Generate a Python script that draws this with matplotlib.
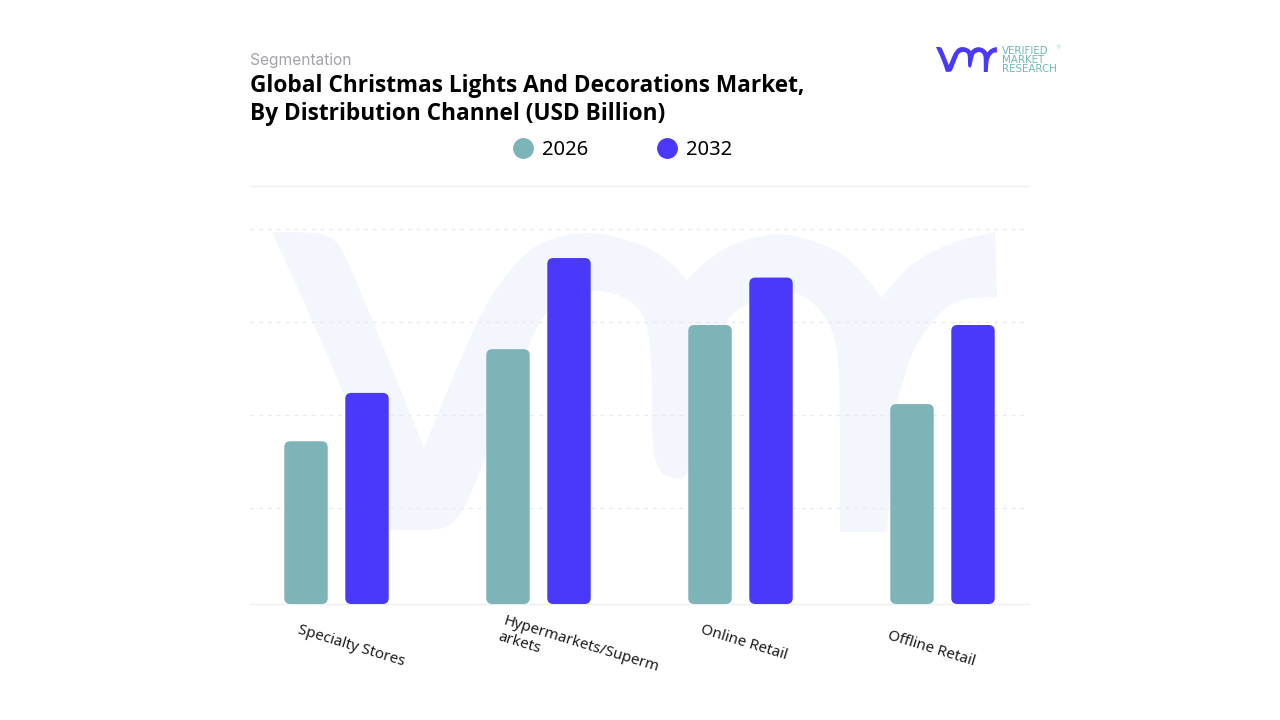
import numpy as np
import matplotlib
matplotlib.use("Agg")
import matplotlib.pyplot as plt
from matplotlib.lines import Line2D
from matplotlib.patches import FancyBboxPatch, Polygon
from matplotlib.transforms import ScaledTranslation

# === DATA ===
CATEGORIES = ["Specialty Stores", "Hypermarkets/Superm\narkets", "Online Retail", "Offline Retail"]
VALUES_2026 = [1.75, 2.74, 3.00, 2.15]
VALUES_2032 = [2.27, 3.72, 3.51, 3.00]
GRID_TICKS = [1.03, 2.03, 3.03, 4.03]

TEAL = "#7cb4b8"
BLUE = "#4b39fb"
GRID = "#e8eaef"
WATERMARK = "#f4f6fd"

BAR_W = 0.215
BAR_OFF = 0.151
X_PER_PX = 1 / 202
Y_PER_PX = 1 / 93

# label nudges in px, the labels do not sit evenly under their groups
LABEL_NUDGE = [(-36, -14), (-33, -5), (-37, -14), (-52, -20)]

# vmr logo outline, in reference pixels (also used small for the logo)
VMR = [
    (272, 232), (315, 232), (333, 238), (345, 252), (424, 448), (465, 348), (482, 312),
    (500, 282), (530, 248), (558, 236), (590, 232), (622, 238), (650, 248), (670, 262),
    (687, 280), (705, 262), (725, 248), (750, 238), (780, 233), (812, 240), (840, 252),
    (862, 272), (882, 298), (902, 272), (925, 255), (958, 240), (995, 232), (997, 297),
    (965, 298), (948, 306), (935, 318), (920, 338), (910, 358), (900, 390), (895, 415),
    (887, 532), (840, 532), (840, 365), (834, 335), (825, 315), (810, 300), (795, 292),
    (770, 294), (750, 302), (735, 312), (725, 322), (705, 400), (690, 480), (665, 477),
    (657, 466), (652, 448), (652, 355), (645, 315), (630, 300), (610, 292), (590, 290),
    (570, 296), (550, 308), (535, 328), (485, 458), (472, 492), (460, 515), (450, 525),
    (440, 530), (390, 530), (345, 392),
]
SHARP = {(272, 232), (424, 448), (687, 280), (882, 298), (995, 232), (997, 297),
         (887, 532), (840, 532), (390, 530)}


def chaikin(points, sharp, rounds=3):
    """Corner cutting so the outline reads as curves, sharp points are kept."""
    pts = [tuple(p) for p in points]
    for _ in range(rounds):
        out = []
        n = len(pts)
        for i in range(n):
            p, q = np.array(pts[i - 1], float), np.array(pts[i], float)
            r = np.array(pts[(i + 1) % n], float)
            if pts[i] in sharp:
                out.append(pts[i])
            else:
                out.append(tuple(q + (p - q) * 0.25))
                out.append(tuple(q + (r - q) * 0.25))
        pts = out
    return np.array(pts)


outline = chaikin(VMR, SHARP)

fig = plt.figure(figsize=(12.8, 7.2), dpi=100, facecolor="white")

# background layer in pixel coordinates: watermark, titles, logo
bg = fig.add_axes([0, 0, 1, 1], zorder=0)
bg.set_xlim(0, 1280)
bg.set_ylim(720, 0)
bg.axis("off")
bg.add_patch(Polygon(outline, closed=True, facecolor=WATERMARK, edgecolor="none"))

logo = outline.copy()
logo[:, 0] = 936 + (logo[:, 0] - 272) * 61 / 725
logo[:, 1] = 47 + (logo[:, 1] - 232) * 25 / 300
bg.add_patch(Polygon(logo, closed=True, facecolor=BLUE, edgecolor="none"))
for y, line in zip([51, 60, 69], ["VERIFIED", "MARKET", "RESEARCH"]):
    bg.text(1002, y, line, color="#6fb9b5", fontsize=7.4, family="DejaVu Sans", va="center", ha="left")
bg.text(1055, 48, "®", color="#9fcfcc", fontsize=4, family="DejaVu Sans", va="center", ha="left")

bg.text(250, 60, "Segmentation", color="#a3a3a8", fontsize=11.2, family="Inter", va="center", ha="left")
bg.text(250, 85.5, "Global Christmas Lights And Decorations Market,", color="black", fontsize=16.3,
        family="Open Sans", weight="bold", va="center", ha="left")
bg.text(250, 114.5, "By Distribution Channel (USD Billion)", color="black", fontsize=16.3,
        family="Open Sans", weight="bold", va="center", ha="left")

# main chart
ax = fig.add_axes([250 / 1280, 1 - 604 / 720, 779 / 1280, 418 / 720], zorder=1)
ax.patch.set_alpha(0)
ax.set_xlim(-86.5 * X_PER_PX, 692.5 * X_PER_PX)
ax.set_ylim(0, 418 * Y_PER_PX)

for i, (a, b) in enumerate(zip(VALUES_2026, VALUES_2032)):
    for val, off, col in [(a, -BAR_OFF, TEAL), (b, BAR_OFF, BLUE)]:
        ax.add_patch(FancyBboxPatch(
            (i + off - BAR_W / 2, 0), BAR_W, val,
            boxstyle=f"round,pad=0,rounding_size={6 * X_PER_PX}",
            mutation_aspect=Y_PER_PX / X_PER_PX,
            facecolor=col, edgecolor="none", zorder=3, clip_on=False))

ax.set_yticks(GRID_TICKS)
ax.set_yticklabels([])
ax.yaxis.grid(True, color=GRID, linestyle=(0, (3, 4)), linewidth=0.9)
ax.set_axisbelow(True)
ax.tick_params(axis="both", length=0)

for name, spine in ax.spines.items():
    spine.set_visible(name in ("top", "bottom"))
    spine.set_color("#eeeff2")
    spine.set_linewidth(1.0)

ax.set_xticks(range(len(CATEGORIES)))
ax.set_xticklabels(CATEGORIES, rotation=-17, ha="left", va="top", rotation_mode="anchor",
                   fontsize=10.8, family="Noto Sans", color="#1a1a1a", linespacing=1.1)
for lab, (dx, dy) in zip(ax.get_xticklabels(), LABEL_NUDGE):
    lab.set_transform(lab.get_transform() + ScaledTranslation(dx / 100, dy / 100, fig.dpi_scale_trans))

handles = [
    Line2D([], [], marker="o", linestyle="none", markersize=14, color=TEAL, label="2026"),
    Line2D([], [], marker="o", linestyle="none", markersize=14, color=BLUE, label="2032"),
]
fig.legend(handles=handles, loc="center", bbox_to_anchor=(622.5 / 1280, 1 - 150 / 720), ncol=2,
           frameon=False, handlelength=1, handletextpad=0.45, columnspacing=3.4,
           prop={"family": "Noto Sans", "size": 14.5})

fig.savefig("out.png", dpi=100)
